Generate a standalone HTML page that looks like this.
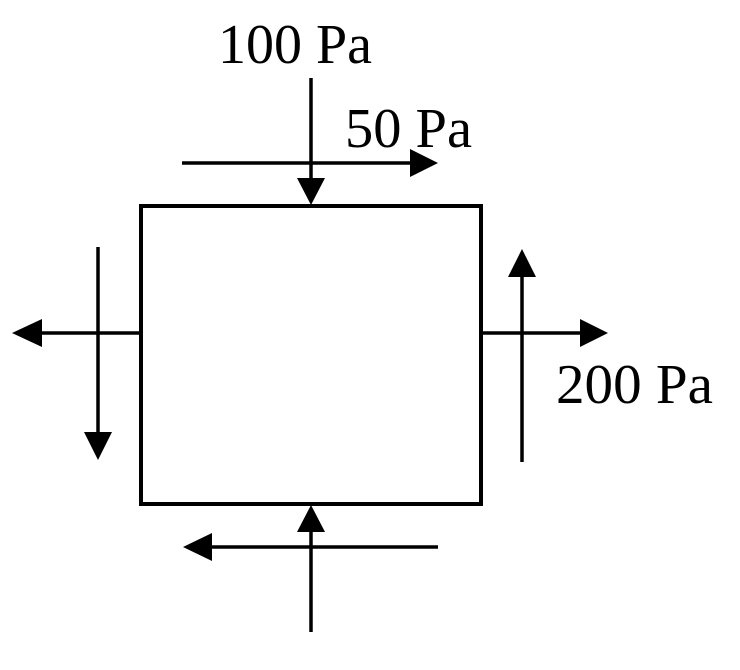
<!DOCTYPE html>
<html><head><style>html,body{margin:0;padding:0;background:#fff;}svg{display:block}</style></head>
<body>
<svg width="740" height="670" viewBox="0 0 740 670" xmlns="http://www.w3.org/2000/svg">
<g font-family="Liberation Serif, serif" font-size="56" fill="#000">
<text x="218" y="63" textLength="154" lengthAdjust="spacingAndGlyphs">100 Pa</text>
<text x="345" y="147" textLength="127" lengthAdjust="spacingAndGlyphs">50 Pa</text>
<text x="556" y="403" textLength="157" lengthAdjust="spacingAndGlyphs">200 Pa</text>
</g>
<rect x="141" y="206" width="340" height="298" fill="none" stroke="#000" stroke-width="4"/>
<g stroke="#000" stroke-width="3.5" fill="none">
<line x1="311" y1="78" x2="311" y2="182"/>
<line x1="182" y1="163" x2="412" y2="163"/>
<line x1="141" y1="333" x2="40" y2="333"/>
<line x1="98" y1="247" x2="98" y2="434"/>
<line x1="481" y1="333" x2="582" y2="333"/>
<line x1="522" y1="462" x2="522" y2="275"/>
<line x1="311" y1="632" x2="311" y2="530"/>
<line x1="438" y1="547" x2="210" y2="547"/>
</g>
<g fill="#000">
<polygon points="297,178 325,178 311,205"/>
<polygon points="410,149 410,177 438,163"/>
<polygon points="42,319 42,347 12,333"/>
<polygon points="84,432 112,432 98,460"/>
<polygon points="580,319 580,347 608,333"/>
<polygon points="508,277 536,277 522,249"/>
<polygon points="297,532 325,532 311,505"/>
<polygon points="212,533 212,561 183,547"/>
</g>
</svg>
</body></html>
